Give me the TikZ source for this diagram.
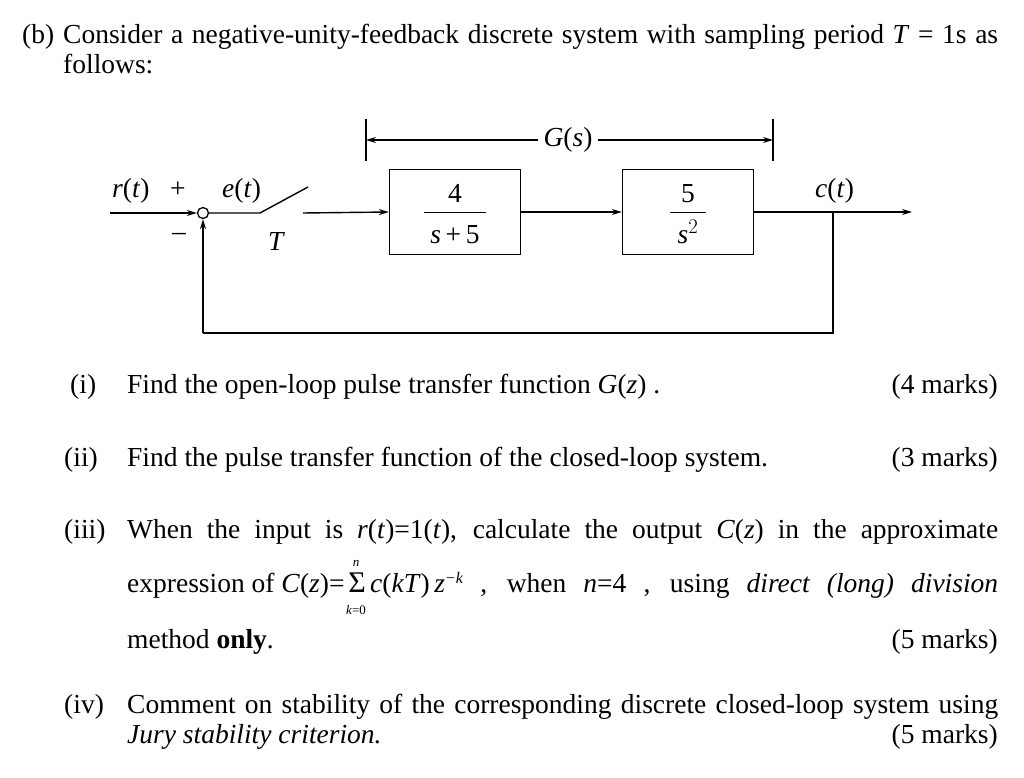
\documentclass[tikz,border=0pt]{standalone}
\usepackage{fontspec}
\setmainfont{Liberation Serif}
\usetikzlibrary{arrows.meta}
\begin{document}
\begin{tikzpicture}[x=1pt,y=-1pt,font=\fontsize{27.5}{32}\selectfont,
  txt/.style={anchor=base west,inner sep=0},
  rtxt/.style={anchor=base east,inner sep=0},
  ctxt/.style={anchor=base,inner sep=0},
  blk/.style={draw,line width=1.4pt,minimum width=131pt,minimum height=85pt,inner sep=0},
  sig/.style={line width=1.4pt,-{Stealth[length=10pt,width=6pt]}},
  ln/.style={line width=1.4pt}]
\useasboundingbox (0,0) rectangle (1024,778);
% header
\node[txt] (b) at (22,44) {(b)};
\node[txt] (l1) at (63,44) {\makebox[935pt][s]{Consider a negative-unity-feedback discrete system with sampling period \textit{T} = 1s as}};
\node[txt] (l2) at (63,74) {follows:};
% diagram
\node[draw,circle,line width=1.3pt,minimum size=11pt,inner sep=0] (sum) at (203,213) {};
\coordinate (in) at (110,213);
\draw[sig] (in) -- (sum.west);
\coordinate (s1) at (260,213);
\coordinate (s2) at (308,187);
\coordinate (s3) at (303,213);
\draw[ln] (sum.east) -- (s1) -- (s2);
\node[blk] (g1) at (455,212) {};
\node[blk] (g2) at (688,212) {};
\node[ctxt] (n1) at (455,202) {4};
\node[ctxt] (d1) at (455,243) {\textit{s}\,+\,5};
\draw[line width=0.9pt] (424,212) -- (486,212);
\node[ctxt] (n2) at (688,202) {5};
\node[ctxt] (d2) at (688,243) {\textit{s}$^2$};
\draw[line width=0.9pt] (670,212) -- (706,212);
\draw[sig] (s3) -- (g1.west);
\draw[sig] (g1.east) -- (g2.west);
\coordinate (out) at (912,212);
\draw[sig] (g2.east) -- (out);
\coordinate (tap) at (833,212);
\coordinate (fb1) at (833,333);
\coordinate (fb2) at (203,333);
\draw[ln] (tap) -- (fb1) -- (fb2);
\draw[sig] (fb2) -- (sum.south);
\node[txt] (rt) at (112,197) {\textit{r}(\textit{t})};
\node[txt] (pl) at (170,197) {+};
\node[txt] (et) at (222,197) {\textit{e}(\textit{t})};
\node[txt] (mi) at (172,240) {--};
\node[txt] (T) at (268,250) {\textit{T}};
\node[txt] (ct) at (815,197) {\textit{c}(\textit{t})};
% G(s) bracket
\coordinate (ba) at (366,119); \coordinate (bb) at (366,161);
\coordinate (bc) at (773,119); \coordinate (bd) at (773,161);
\draw[ln] (ba) -- (bb); \draw[ln] (bc) -- (bd);
\node[inner sep=5pt] (G) at (568,140) {\textit{G}(\textit{s})};
\draw[sig] (G.west) -- (366,140);
\draw[sig] (G.east) -- (773,140);
% questions
\node[txt] (i) at (70,393) {(i)};
\node[txt] (it) at (127,393) {Find the open-loop pulse transfer function \textit{G}(\textit{z}) .};
\node[rtxt] (im) at (998,393) {(4 marks)};
\node[txt] (ii) at (64,466) {(ii)};
\node[txt] (iit) at (127,466) {Find the pulse transfer function of the closed-loop system.};
\node[rtxt] (iim) at (998,466) {(3 marks)};
\node[txt] (iii) at (64,538) {(iii)};
\node[txt] (iiit) at (127,538) {\makebox[871pt][s]{When the input is \textit{r}(\textit{t})=1(\textit{t}), calculate the output \textit{C}(\textit{z}) in the approximate}};
\node[txt] (iiit2a) at (127,592) {expression of \textit{C}(\textit{z})=};
\node[ctxt] (sig) at (357,592) {\fontsize{30}{30}\selectfont Σ};
\node[ctxt] (sn) at (356,566) {\fontsize{13}{13}\selectfont\textit{n}};
\node[ctxt] (sk) at (356,614) {\fontsize{13}{13}\selectfont\textit{k}=0};
\node[txt] (iiit2b) at (370,592) {\makebox[628pt][s]{\textit{c}(\textit{kT})\,\textit{z}\raisebox{9pt}{\fontsize{16}{16}\selectfont\textit{−k}} , when \textit{n}=4 , using \textit{direct (long) division}}};
\node[txt] (iiit3) at (127,648) {method \textbf{only}.};
\node[rtxt] (iiim) at (998,648) {(5 marks)};
\node[txt] (iv) at (64,713) {(iv)};
\node[txt] (ivt) at (127,713) {\makebox[871pt][s]{Comment on stability of the corresponding discrete closed-loop system using}};
\node[txt] (ivt2) at (127,743) {\textit{Jury stability criterion.}};
\node[rtxt] (ivm) at (998,743) {(5 marks)};
\end{tikzpicture}
\end{document}
